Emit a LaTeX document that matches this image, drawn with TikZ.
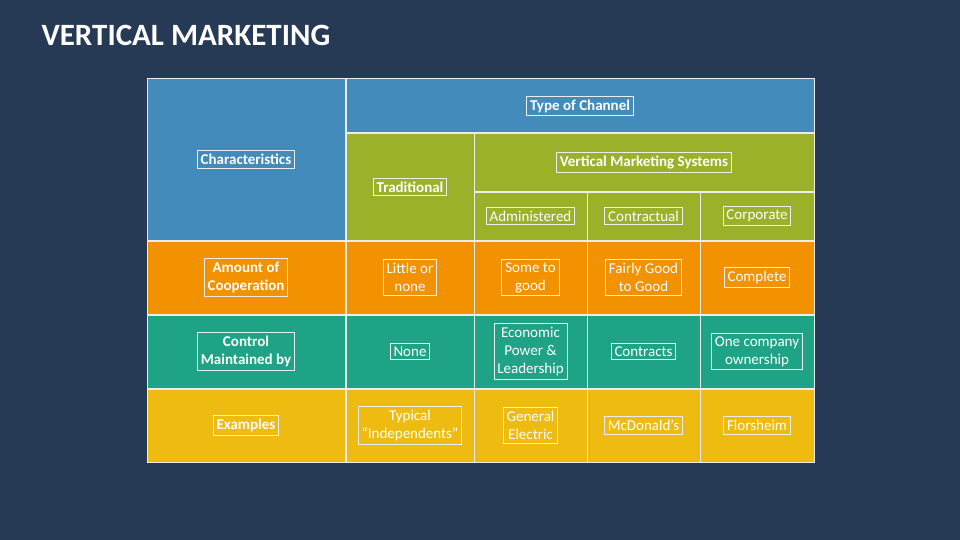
\documentclass[tikz,border=0pt]{standalone}
\usepackage{fontspec}
\setmainfont{Carlito}
\definecolor{bg}{HTML}{263A55}
\definecolor{cblue}{HTML}{428BBA}
\definecolor{cgreen}{HTML}{9BB12A}
\definecolor{corange}{HTML}{F39200}
\definecolor{cteal}{HTML}{1FA386}
\definecolor{cyellow}{HTML}{EEBC10}
\tikzset{cell/.style={draw=white!85!gray,line width=1pt,text=white,align=center,font=\fontsize{15}{18}\selectfont},
b/.style={font=\fontsize{15}{18}\selectfont\bfseries}}
\newcommand{\cellbox}[7]{\fill[#5,draw=white!85!gray,line width=1pt] (#1,#2) rectangle (#3,#4);
\node[cell,#6] (n#1x#2) at ({(#1+#3)/2},{(#2+#4)/2}) {#7};}
\begin{document}
\begin{tikzpicture}[x=1pt,y=-1pt]
\fill[bg] (0,0) rectangle (960,540);
\node[anchor=west,text=white,font=\fontsize{31}{36}\selectfont\bfseries] (title) at (38,35) {VERTICAL MARKETING};
\cellbox{147}{79}{345}{240}{cblue}{b}{Characteristics}
\cellbox{346}{79}{814}{133}{cblue}{b}{Type of Channel}
\cellbox{346}{134}{474}{240}{cgreen}{b}{Traditional}
\cellbox{474}{134}{814}{191}{cgreen}{b}{Vertical Marketing Systems}
\cellbox{474}{192}{587}{240}{cgreen}{}{Administered}
\cellbox{587}{192}{700}{240}{cgreen}{}{Contractual}
\cellbox{700}{192}{814}{240}{cgreen}{}{Corporate}
\cellbox{147}{241}{345}{314}{corange}{b}{Amount of\\Cooperation}
\cellbox{346}{241}{474}{314}{corange}{}{Little or\\none}
\cellbox{474}{241}{587}{314}{corange}{}{Some to\\good}
\cellbox{587}{241}{700}{314}{corange}{}{Fairly Good\\to Good}
\cellbox{700}{241}{814}{314}{corange}{}{Complete}
\cellbox{147}{315}{345}{388}{cteal}{b}{Control\\Maintained by}
\cellbox{346}{315}{474}{388}{cteal}{}{None}
\cellbox{474}{315}{587}{388}{cteal}{}{Economic\\Power \&\\Leadership}
\cellbox{587}{315}{700}{388}{cteal}{}{Contracts}
\cellbox{700}{315}{814}{388}{cteal}{}{One company\\ownership}
\cellbox{147}{389}{345}{462}{cyellow}{b}{Examples}
\cellbox{346}{389}{474}{462}{cyellow}{}{Typical\\“Independents”}
\cellbox{474}{389}{587}{462}{cyellow}{}{General\\Electric}
\cellbox{587}{389}{700}{462}{cyellow}{}{McDonald’s}
\cellbox{700}{389}{814}{462}{cyellow}{}{Florsheim}
\end{tikzpicture}
\end{document}
